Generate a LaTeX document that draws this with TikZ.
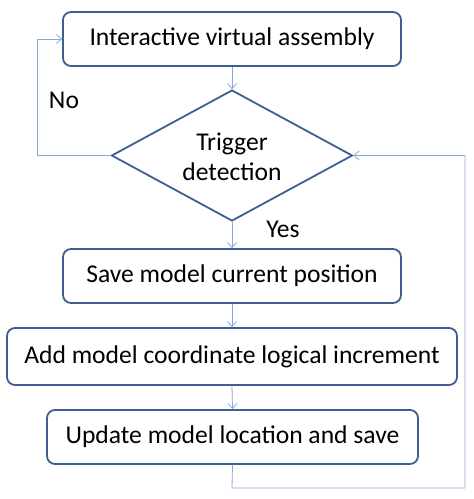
\documentclass[tikz,border=0pt]{standalone}
\usepackage{fontspec}
\setmainfont{Carlito}
\usetikzlibrary{shapes.geometric,arrows.meta}
\definecolor{boxblue}{HTML}{3D5F92}
\definecolor{linkblue}{HTML}{88A8D6}
\begin{document}
\begin{tikzpicture}[x=1pt,y=-1pt,
  stepbox/.style={draw=boxblue,line width=1.8pt,rounded corners=8pt,fill=white,inner sep=0pt,font=\fontsize{25.6}{30}\selectfont},
  decide/.style={draw=boxblue,line width=1.8pt,diamond,fill=white,inner sep=0pt},
  link/.style={draw=linkblue,line width=0.8pt,-{Straight Barb[length=5pt,width=9pt]}},
  lbl/.style={font=\fontsize{25.6}{30}\selectfont,inner sep=0pt}]
\useasboundingbox (0,0) rectangle (474,499);
\node[stepbox,minimum width=338pt,minimum height=54pt] (b1) at (232,39) {Interactive virtual assembly};
\node[decide,minimum width=241pt,minimum height=131pt] (d) at (232,155.5) {};
\node[lbl,align=center] (dt) at (232,156.5) {Trigger\\detection};
\node[stepbox,minimum width=338pt,minimum height=54pt] (b2) at (232,276) {Save model current position};
\node[stepbox,minimum width=450pt,minimum height=57pt] (b3) at (232,356.5) {Add model coordinate logical increment};
\node[stepbox,minimum width=371pt,minimum height=54pt] (b4) at (232.5,437) {Update model location and save};
\node[lbl] (yes) at (283,229) {Yes};
\node[lbl] (no) at (64,100) {No};
\coordinate (l1) at (37,155.5);
\coordinate (l2) at (37,39);
\coordinate (r1) at (232,488);
\coordinate (r2) at (465,488);
\coordinate (r3) at (465,155.5);
\draw[link] (b1.south) -- (d.north);
\draw[link] (d.south) -- (b2.north);
\draw[link] (b2.south) -- (b3.north);
\draw[link] (b3.south) -- (b4.north);
\draw[link] (d.west) -- (l1) -- (l2) -- (b1.west);
\draw[link] (b4.south) -- (r1) -- (r2) -- (r3) -- (d.east);
\end{tikzpicture}
\end{document}
